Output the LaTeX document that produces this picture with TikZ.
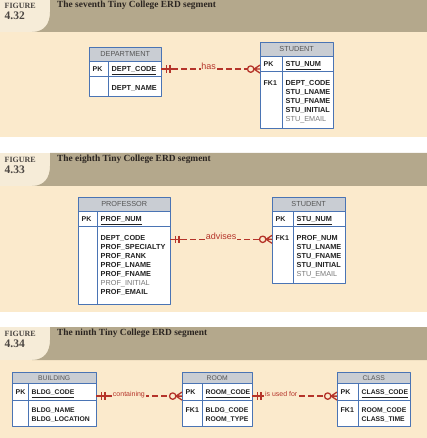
\documentclass[tikz,border=0pt]{standalone}
\usepackage{fontspec}
\setmainfont{Liberation Serif}
\setsansfont{Liberation Sans}
\usepackage{xcolor}
\usepackage{tikz}
\usetikzlibrary{calc,positioning}

\definecolor{panelbeige}{RGB}{251,234,204}
\definecolor{tablight}{RGB}{246,236,216}
\definecolor{bandtan}{RGB}{180,168,140}
\definecolor{figtext}{RGB}{43,37,33}
\definecolor{erblue}{RGB}{74,116,180}
\definecolor{headfill}{RGB}{201,205,211}
\definecolor{headtext}{RGB}{85,85,85}
\definecolor{attrtext}{RGB}{34,34,34}
\definecolor{attrgray}{RGB}{120,120,120}
\definecolor{relred}{RGB}{181,52,42}

\newcommand{\plainattr}[1]{{\mdseries\color{attrgray}#1}}
\def\erheadh{14pt}
\def\erpkh{15pt}
\def\erbodyoff{-8.3pt}

% #1 name, #2 top left, #3 width, #4 key column, #5 body height,
% #6 title, #7 primary key, #8 body key, #9 body attributes
\newcommand{\erentity}[9]{%
  \node[erhead,minimum width=#3,minimum height=\erheadh,anchor=north west]
    (#1-h) at #2 {#6};
  \node[errow,minimum width=#3,minimum height=\erpkh,anchor=north west]
    (#1-pk) at (#1-h.south west) {};
  \node[errow,minimum width=#3,minimum height=#5,anchor=north west]
    (#1-b) at (#1-pk.south west) {};
  \coordinate (#1-d) at ([xshift=#4]#1-h.south west);
  \coordinate (#1-pkc) at (#1-d |- #1-pk.center);
  \coordinate (#1-bt) at (#1-d |- #1-b.north);
  \draw[ersep] (#1-h.south west) -- (#1-h.south east);
  \draw[ersep] (#1-pk.south west) -- (#1-pk.south east);
  \draw[erline] (#1-d) -- (#1-d |- #1-b.south);
  \node[erkey,anchor=base west] (#1-pkk) at ([yshift=-2.6pt]#1-pk.west) {PK};
  \node[erattr,anchor=base west] (#1-pka) at ([yshift=-2.6pt]#1-pkc)
    {\underline{#7}};
  \node[erkey,anchor=north west] (#1-bk) at ([yshift=\erbodyoff]#1-b.north west) {#8};
  \node[erattr,anchor=north west] (#1-ba) at ([yshift=\erbodyoff]#1-bt) {#9};
  \draw[erframe] (#1-h.north west) rectangle (#1-b.south east);
}

\begin{document}
\begin{tikzpicture}[
  x=1pt,y=-1pt,
  line join=round,
  figlabel/.style={inner sep=0pt,text=figtext!85,font=\bfseries\fontsize{8}{9}\selectfont},
  fignum/.style={inner sep=0pt,text=figtext!85,font=\bfseries\fontsize{11.5}{12}\selectfont},
  figtitle/.style={inner sep=0pt,text=figtext,font=\bfseries\fontsize{9.4}{11}\selectfont},
  erhead/.style={fill=headfill,inner sep=0pt,text=headtext,
    font=\sffamily\fontsize{7.3}{9}\selectfont},
  errow/.style={fill=white,inner sep=0pt},
  erkey/.style={inner xsep=3.5pt,inner ysep=0pt,text=attrtext,align=left,
    font=\sffamily\bfseries\fontsize{7}{9}\selectfont},
  erattr/.style={inner xsep=3.5pt,inner ysep=0pt,text=attrtext,align=left,
    font=\sffamily\bfseries\fontsize{7.3}{9}\selectfont},
  erframe/.style={draw=erblue,line width=0.8pt},
  ersep/.style={draw=erblue,line width=1.2pt},
  erline/.style={draw=erblue,line width=0.8pt},
  relsolid/.style={draw=relred,line width=1.3pt},
  relline/.style={relsolid,dash pattern=on 5.5pt off 3.5pt,
    shorten <=11pt,shorten >=13pt},
  rellabel/.style={anchor=base,fill=panelbeige,inner sep=0.8pt,text=relred,
    font=\sffamily\fontsize{9}{10}\selectfont},
  pics/onemand/.style={code={
    \draw[relsolid] (0,0) -- (11,0) (5,-3.8) -- (5,3.8) (8.5,-3.8) -- (8.5,3.8);}},
  pics/manyopt/.style={code={
    \draw[relsolid] (-9.3,0) circle (3.2);
    \draw[relsolid] (-6,0) -- (0,0) (-6,0) -- (0,-4) (-6,0) -- (0,4);}}
]
\path[use as bounding box] (0,0) rectangle (427,438);

% figure panels
\foreach \top/\bot/\num/\ttl [count=\i] in
  {-1/137/4.32/The seventh Tiny College ERD segment,
   153/312/4.33/The eighth Tiny College ERD segment,
   327/438/4.34/The ninth Tiny College ERD segment}
{
  \pgfmathsetmacro\bb{\top+33}
  \fill[panelbeige] (0,\bb) rectangle (427,\bot);
  \fill[tablight] (0,\top) rectangle (50,\bb);
  \fill[bandtan] (50,\top) -- (427,\top) -- (427,\bb) -- (32,\bb)
    .. controls (44,\bb) and (50,\bb-8) .. (50,\bb-20) -- cycle;
  \node[figlabel,anchor=west] (fig\i-lab) at (4.5,\top+6.5) {FIGURE};
  \node[fignum,anchor=west] (fig\i-num) at (4.5,\top+16.5) {\num};
  \node[figtitle,anchor=west] (fig\i-title) at (57,\top+6) {\ttl};
}

% seventh segment
\erentity{dept}{(89,47)}{72pt}{19pt}{19pt}{DEPARTMENT}{DEPT\_CODE}{}{DEPT\_NAME}
\erentity{stua}{(260,42)}{73pt}{22pt}{56pt}{STUDENT}{STU\_NUM}{FK1}
  {DEPT\_CODE\\STU\_LNAME\\STU\_FNAME\\STU\_INITIAL\\\plainattr{STU\_EMAIL}}
\draw[relline] (dept-pk.east) -- (dept-pk.east -| stua-h.west)
  node[rellabel,pos=0.48] {has};
\pic at (dept-pk.east) {onemand};
\pic at (dept-pk.east -| stua-h.west) {manyopt};

% eighth segment
\erentity{prof}{(78,197)}{92pt}{19pt}{77pt}{PROFESSOR}{PROF\_NUM}{}
  {DEPT\_CODE\\PROF\_SPECIALTY\\PROF\_RANK\\PROF\_LNAME\\PROF\_FNAME\\
   \plainattr{PROF\_INITIAL}\\PROF\_EMAIL}
\erentity{stub}{(272,197)}{73pt}{21pt}{56pt}{STUDENT}{STU\_NUM}{FK1}
  {PROF\_NUM\\STU\_LNAME\\STU\_FNAME\\STU\_INITIAL\\\plainattr{STU\_EMAIL}}
\coordinate (advise) at ([yshift=-12.5pt]prof-b.north east);
\draw[relline] (advise) -- (advise -| stub-h.west)
  node[rellabel,pos=0.5] {advises};
\pic at (advise) {onemand};
\pic at (advise -| stub-h.west) {manyopt};

% ninth segment
\begin{scope}[
  erattr/.append style={font=\sffamily\bfseries\fontsize{6.8}{9}\selectfont},
  erhead/.append style={font=\sffamily\fontsize{6.8}{9}\selectfont},
  rellabel/.append style={font=\sffamily\fontsize{7}{8}\selectfont}]
\def\erheadh{11pt}\def\erpkh{17pt}\def\erbodyoff{-6.6pt}
\erentity{bldg}{(12,372)}{84pt}{16pt}{25pt}{BUILDING}{BLDG\_CODE}{}
  {BLDG\_NAME\\BLDG\_LOCATION}
\erentity{room}{(182,372)}{70pt}{20pt}{25pt}{ROOM}{ROOM\_CODE}{FK1}
  {BLDG\_CODE\\ROOM\_TYPE}
\erentity{class}{(337,372)}{73pt}{21pt}{25pt}{CLASS}{CLASS\_CODE}{FK1}
  {ROOM\_CODE\\CLASS\_TIME}
\coordinate (contain) at ([yshift=-4pt]bldg-pk.east);
\coordinate (usedfor) at ([yshift=-4pt]room-pk.east);
\draw[relline] (contain) -- (contain -| room-h.west)
  node[rellabel,pos=0.38] {containing};
\draw[relline] (usedfor) -- (usedfor -| class-h.west)
  node[rellabel,pos=0.34] {is used for};
\pic at (contain) {onemand};
\pic at (contain -| room-h.west) {manyopt};
\pic at (usedfor) {onemand};
\pic at (usedfor -| class-h.west) {manyopt};
\end{scope}
\end{tikzpicture}
\end{document}
